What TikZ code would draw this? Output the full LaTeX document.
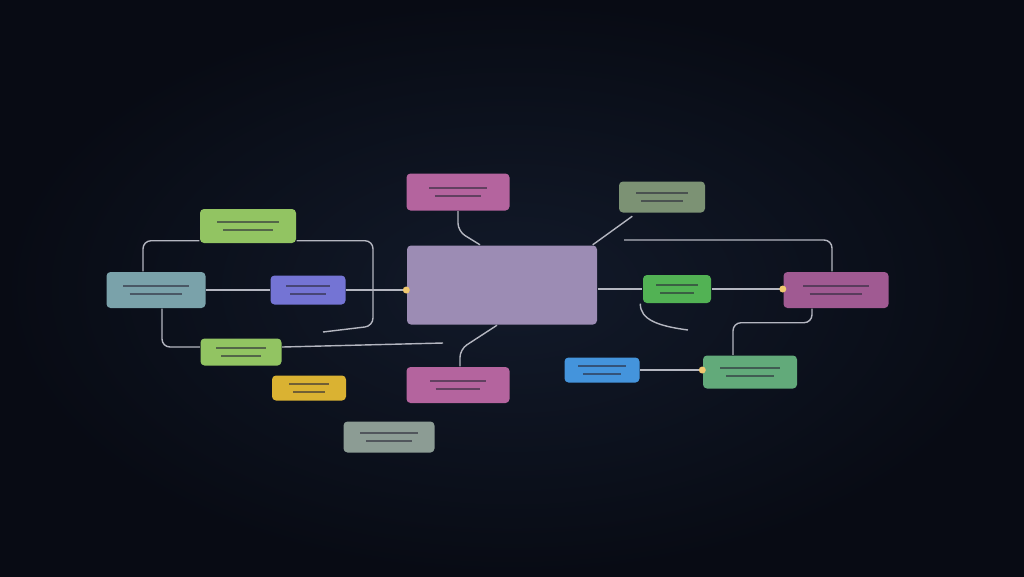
\documentclass[tikz,border=0pt]{standalone}
\usepackage[rgb]{xcolor}
\usepackage{tikz}
\usetikzlibrary{calc}
\usetikzlibrary{math}
\definecolor{bg-inner}{HTML}{121a2a}
\definecolor{bg-outer}{HTML}{080b14}
\definecolor{wire-color}{HTML}{b4b6c0}
\definecolor{dot-color}{HTML}{f0c870}
\definecolor{bar-color}{HTML}{2a2838}
\definecolor{box-pink}{HTML}{b4649e}
\definecolor{box-sage}{HTML}{7c9274}
\definecolor{box-lime}{HTML}{92c462}
\definecolor{box-teal}{HTML}{7aa2aa}
\definecolor{box-violet}{HTML}{7474d4}
\definecolor{box-centre}{HTML}{9c8cb4}
\definecolor{box-green}{HTML}{52b254}
\definecolor{box-plum}{HTML}{a05a92}
\definecolor{box-yellow}{HTML}{dab232}
\definecolor{box-grey}{HTML}{8c9c94}
\definecolor{box-blue}{HTML}{4494dc}
\definecolor{box-mint}{HTML}{62aa7a}

\begin{document}
\begin{tikzpicture}[
    x=0.1mm, y=-0.1mm,
    box/.style={rounded corners=0.4mm, inner sep=0pt},
    wire/.style={wire-color, line width=0.4pt, rounded corners=0.8mm},
    textbar/.style={bar-color, line width=0.6pt, opacity=0.6},
    ]

% Position settings
\tikzmath{
    % Left column
    \xleft = 156;
    \xleftgreen = 248;
    % Centre column
    \xcentre = 502;
    \xpink = 458;
    % Right column
    \xright = 836;
    % Rows
    \ytop = 192;
    \ymiddle = 290;
    \ylower = 372;
}

% Draws background
\shade[inner color=bg-inner, outer color=bg-outer] (0,0) rectangle (1024,576);

% Draws left boxes
\node[box, fill=box-lime, minimum width=9.6mm, minimum height=3.4mm] (lime) at (\xleftgreen,226) {};
\node[box, fill=box-teal, minimum width=9.9mm, minimum height=3.6mm] (teal) at (\xleft,\ymiddle) {};
\node[box, fill=box-violet, minimum width=7.5mm, minimum height=2.9mm] (violet) at (308,\ymiddle) {};
\node[box, fill=box-lime, minimum width=8.1mm, minimum height=2.7mm] (limelow) at (241,352) {};
\node[box, fill=box-yellow, minimum width=7.4mm, minimum height=2.5mm] (yellow) at (309,388) {};
\node[box, fill=box-grey, minimum width=9.1mm, minimum height=3.1mm] (grey) at (389,437) {};

% Draws centre boxes
\node[box, fill=box-pink, minimum width=10.3mm, minimum height=3.7mm] (pinktop) at (\xpink,\ytop) {};
\node[box, fill=box-centre, minimum width=19mm, minimum height=7.9mm] (centre) at (\xcentre,285) {};
\node[box, fill=box-pink, minimum width=10.3mm, minimum height=3.6mm] (pinklow) at (\xpink,385) {};

% Draws right boxes
\node[box, fill=box-sage, minimum width=8.6mm, minimum height=3.1mm] (sage) at (662,197) {};
\node[box, fill=box-green, minimum width=6.8mm, minimum height=2.8mm] (green) at (677,289) {};
\node[box, fill=box-plum, minimum width=10.5mm, minimum height=3.6mm] (plum) at (\xright,\ymiddle) {};
\node[box, fill=box-blue, minimum width=7.5mm, minimum height=2.5mm] (blue) at (602,370) {};
\node[box, fill=box-mint, minimum width=9.4mm, minimum height=3.3mm] (mint) at (750,\ylower) {};

% Blurred lines of text inside the boxes
\foreach \n/\w in {lime/62, teal/66, violet/44, limelow/50, yellow/40, grey/58,
                   pinktop/58, pinklow/56, sage/52, green/42, plum/66, blue/48, mint/60}{
    \draw[textbar] ($(\n.center)+(-\w/2,-4)$) -- ($(\n.center)+(\w/2,-4)$);
    \draw[textbar] ($(\n.center)+(-\w*0.4,4)$) -- ($(\n.center)+(\w*0.4,4)$);
}

% Free ends of some wires
\coordinate (loopend) at (323,332);
\coordinate (longend) at (443,343);
\coordinate (topend) at (624,240);
\coordinate (curveend) at (688,330);

% Draws wires on the left
\draw[wire] ($(lime.south west)+(0,-3)$) -| ($(teal.north)+(-13,0)$);
\draw[wire] ($(lime.south east)+(0,-3)$) -| ($(loopend)+(50,-6)$) -- (loopend);
\draw[wire] (teal) -- (violet);
\draw[wire] (violet) -- (centre.west |- violet);
\draw[wire] ($(teal.south)+(6,0)$) |- ($(limelow.west)+(0,-5)$);
\draw[wire] ($(limelow.east)+(0,-5)$) -- (longend);

% Draws wires round the centre
\draw[wire] (pinktop.south) -- ++(0,20) -- ($(centre.north)+(-22,0)$);
\draw[wire] ($(sage.south west)+(14,3)$) -- ($(centre.north east)+(-5,0)$);
\draw[wire] ($(centre.south)+(-5,0)$) -- ($(pinklow.north)+(2,-17)$) -- ($(pinklow.north)+(2,0)$);
\draw[wire] (centre.east |- green.west) -- (green.west);

% Draws wires on the right
\draw[wire] (green.east) -- (green.east -| plum.west);
\draw[wire] (topend) -| ($(plum.north)+(-4,0)$);
\draw[wire, rounded corners=0pt] ($(green.south west)+(-2,0)$) .. controls ++(0,16) and ($(curveend)+(-30,-4)$) .. (curveend);
\draw[wire] ($(plum.south)+(-24,0)$) -- ++(0,14) -| ($(mint.north)+(-17,0)$);
\draw[wire] (blue.east) -- (blue.east -| mint.west);

% Yellow dots where wires meet boxes
\fill[dot-color] (centre.west |- violet) circle[radius=3.5];
\fill[dot-color] (green.east -| plum.west) circle[radius=3.5];
\fill[dot-color] (blue.east -| mint.west) circle[radius=3.5];

\end{tikzpicture}
\end{document}
